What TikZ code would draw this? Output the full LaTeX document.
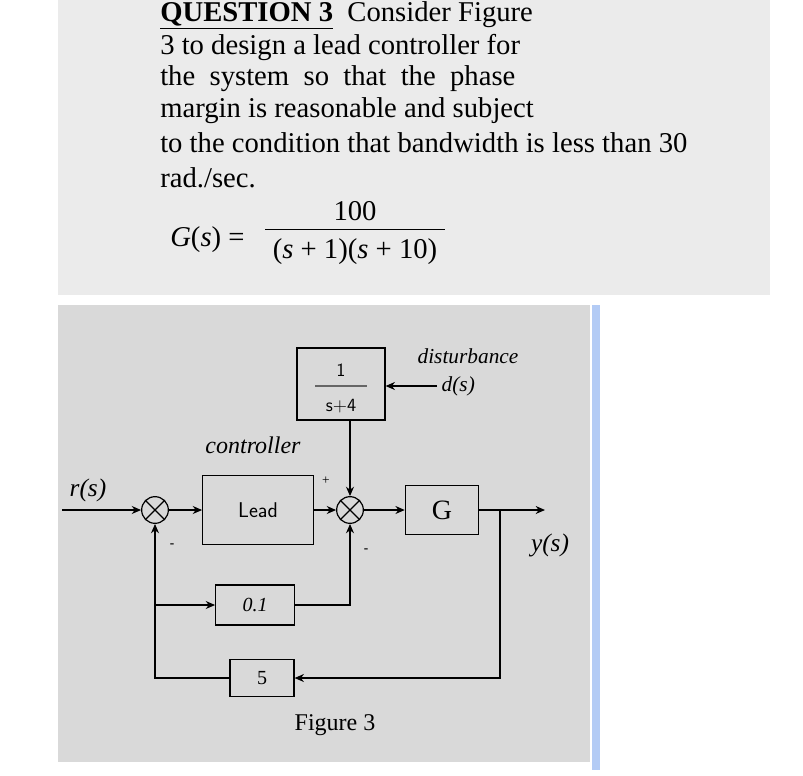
\documentclass[tikz,border=0pt]{standalone}
\usepackage{fontspec}
\setmainfont{Liberation Serif}
\usetikzlibrary{arrows.meta}
\definecolor{barblue}{HTML}{B3CBF5}
\begin{document}
\begin{tikzpicture}[x=0.75pt,y=-0.75pt,
  blk/.style={draw,line width=0.9pt,inner sep=0pt},
  sumj/.style={draw,circle,line width=0.9pt,minimum size=20pt,inner sep=0pt},
  ln/.style={line width=0.9pt},
  ar/.style={line width=0.9pt,-{Stealth[length=7pt,width=6pt]}},
  tx/.style={font=\fontsize{21.5}{24}\selectfont,anchor=west,inner sep=0pt}]
\useasboundingbox (0,0) rectangle (803,775);
\fill[white] (0,0) rectangle (803,775);
\fill[black!8] (58,0) rectangle (770,295);
\fill[black!15] (58,305) rectangle (590,762);
\fill[barblue] (592,305) rectangle (600,770);
% question text
\node[tx] (q1) at (160,15) {\textbf{\underline{QUESTION 3}}\ \ Consider Figure};
\node[tx] (q2) at (160,47) {3 to design a lead controller for};
\node[tx] (q3) at (160,79) {the\ \ system\ \ so\ \ that\ \ the\ \ phase};
\node[tx] (q4) at (160,111) {margin is reasonable and subject};
\node[tx] (q5) at (160,143) {to the condition that bandwidth is less than 30};
\node[tx] (q6) at (160,178) {rad./sec.};
\node[tx] (gs) at (170,240) {\textit{G}(\textit{s}) =};
\node[font=\fontsize{21.5}{24}\selectfont,inner sep=0pt] (gn) at (355,211) {100};
\draw[line width=0.6pt] (265,229) -- (445,229);
\node[font=\fontsize{21.5}{24}\selectfont,inner sep=0pt] (gd) at (355,252) {(\textit{s} + 1)(\textit{s} + 10)};
% diagram
\node[blk,minimum width=66pt,minimum height=54pt] (d) at (341,384) {};
\node[font=\sffamily\fontsize{14}{16}\selectfont] (d1) at (341,370) {1};
\draw[ln,black!60] (315,386) -- (367,386);
\node[font=\sffamily\fontsize{14}{16}\selectfont] (d2) at (341,406) {s+4};
\node[font=\itshape\fontsize{16}{18}\selectfont] (dist) at (468,356) {disturbance};
\node[font=\itshape\fontsize{16}{18}\selectfont,anchor=west] (ds) at (437,386) {d(s)};
\draw[ar] (ds.west) -- (d.east |- ds.west);
\node[font=\itshape\fontsize{18}{20}\selectfont] (ctl) at (253,445) {controller};
\node[font=\itshape\fontsize{19}{20}\selectfont] (rs) at (88,490) {r(s)};
\coordinate (in) at (62,510);
\node[sumj] (s1) at (155,510) {};
\draw[ln] (s1.north west) -- (s1.south east) (s1.north east) -- (s1.south west);
\node[blk,minimum width=83pt,minimum height=52pt,font=\sffamily\fontsize{16}{18}\selectfont] (lead) at (258,510) {Lead};
\node[sumj] (s2) at (350,510) {};
\draw[ln] (s2.north west) -- (s2.south east) (s2.north east) -- (s2.south west);
\node[blk,minimum width=55pt,minimum height=37pt,font=\fontsize{21}{24}\selectfont] (g) at (442,510) {G};
\coordinate (out) at (545,510);
\node[font=\itshape\fontsize{19}{20}\selectfont] (ys) at (550,545) {y(s)};
\draw[ar] (in) -- (s1);
\draw[ar] (s1) -- (lead);
\draw[ar] (lead) -- (s2);
\draw[ar] (s2) -- (g);
\draw[ar] (g) -- (out);
\draw[ar] (d.south -| s2) -- (s2);
\node (plus) at (326,481) {+};
\node (m1) at (172,546) {\textbf{-}};
\node (m2) at (366,551) {\textbf{-}};
\node[blk,minimum width=59pt,minimum height=30pt,font=\itshape\fontsize{15}{17}\selectfont] (k1) at (255,605) {0.1};
\node[blk,minimum width=48pt,minimum height=28pt,font=\fontsize{15}{17}\selectfont] (k5) at (262,678) {5};
\coordinate (tap) at (500,510);
\draw[ar] (tap) |- (k5);
\draw[ar] (k5) -| (s1);
\draw[ar] (155,605) -- (k1);
\draw[ar] (k1) -| (s2);
\node[font=\fontsize{18}{20}\selectfont] (fig) at (335,725) {Figure 3};
\end{tikzpicture}
\end{document}
